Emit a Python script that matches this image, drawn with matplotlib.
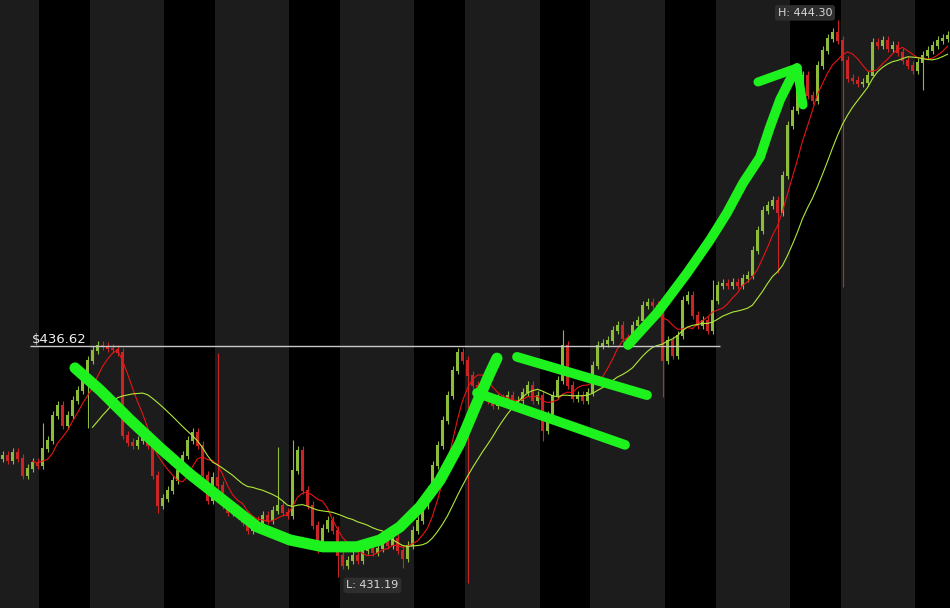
import numpy as np
import pandas as pd
from matplotlib import pyplot as plt

# closing prices, one per bar
closes = [
    434.06, 433.94, 434.13, 433.99, 433.59, 433.76, 433.90, 433.83, 434.23, 434.41,
    435.00, 435.24, 434.77, 435.00, 435.36, 435.59, 435.94, 436.30, 436.53, 436.65,
    436.63, 436.58, 436.56, 436.49, 434.53, 434.37, 434.30, 434.41, 434.60, 434.30,
    433.59, 432.89, 433.05, 433.24, 433.47, 433.71, 434.06, 434.41, 434.60, 434.30,
    433.59, 433.00, 433.55, 433.35, 432.89, 432.72, 432.81, 432.65, 432.48, 432.30,
    432.53, 432.34, 432.65, 432.53, 432.77, 432.89, 432.72, 432.65, 433.71, 434.18,
    433.24, 432.89, 432.41, 432.06, 432.34, 432.53, 432.30, 431.71, 431.47, 431.59,
    431.71, 431.59, 431.83, 431.94, 431.78, 431.87, 432.06, 431.94, 432.11, 431.83,
    431.64, 431.94, 432.30, 432.53, 432.89, 433.24, 433.83, 434.30, 434.89, 435.47,
    436.06, 436.49, 436.30, 435.94, 435.71, 435.64, 435.47, 435.36, 435.24, 435.40,
    435.31, 435.47, 435.24, 435.36, 435.54, 435.71, 435.36, 435.47, 434.65, 435.00,
    435.47, 435.83, 436.65, 435.71, 435.40, 435.47, 435.36, 435.54, 436.18, 436.65,
    436.70, 436.77, 437.00, 437.12, 436.81, 436.72, 437.12, 437.24, 437.59, 437.66,
    437.59, 437.52, 436.30, 436.77, 436.41, 436.89, 437.71, 437.83, 437.36, 437.12,
    437.24, 437.00, 437.71, 438.06, 438.11, 438.06, 438.13, 438.06, 438.23, 438.30,
    438.89, 439.36, 439.83, 439.95, 440.06, 439.78, 440.65, 441.83, 442.18, 442.65,
    443.01, 442.53, 442.42, 443.24, 443.59, 443.88, 444.02, 443.83, 443.36, 442.93,
    442.89, 442.82, 442.84, 443.01, 443.78, 443.71, 443.83, 443.64, 443.71, 443.55,
    443.36, 443.24, 443.12, 443.31, 443.48, 443.59, 443.71, 443.83, 443.88, 443.95,
]
first_open = 434.00

# long wicks (bar index -> price)
spike_highs = {8: 434.82, 29: 434.65, 43: 436.46, 55: 434.25, 58: 434.41,
               112: 437.00, 142: 438.17, 167: 444.30}
spike_lows = {17: 434.70, 31: 432.70, 63: 431.75, 67: 431.19, 80: 431.40,
              93: 431.05, 108: 434.40, 132: 435.43, 155: 438.35, 168: 438.02,
              174: 443.30, 184: 442.65}

ref_level = 436.62
hi_value = 444.30
lo_value = 431.19

# trading sessions (bar index spans, shaded grey)
session_starts = [-0.5, 17.5, 42.5, 67.5, 92.5, 117.5, 142.7, 167.7]
session_ends = [7.3, 32.3, 57.3, 82.3, 107.5, 132.5, 157.5, 182.5]

# hand drawn markup, in (bar, price)
u_bars = [14.5, 19.5, 25.5, 31.5, 37.5, 44.1, 50.9, 57.5, 64.1, 70.9, 75.5,
          79.5, 83.5, 87.5, 91.5, 94.9, 97.5, 98.9]
u_prices = [436.11, 435.59, 434.89, 434.23, 433.61, 433.00, 432.37, 432.06,
            431.90, 431.90, 432.06, 432.37, 432.84, 433.47, 434.34, 435.29,
            435.99, 436.34]
chan_lo_bars = [94.9, 124.5]
chan_lo_prices = [435.52, 434.30]
chan_hi_bars = [102.9, 128.9]
chan_hi_prices = [436.37, 435.47]
arrow_bars = [125.1, 130.9, 136.9, 141.5, 144.9, 148.1, 151.5, 153.5, 155.5,
              157.5, 158.9]
arrow_prices = [436.65, 437.40, 438.34, 439.12, 439.76, 440.46, 441.07,
                441.78, 442.42, 442.89, 443.17]
head_bars = [151.1, 158.9, 160.1]
head_prices = [442.84, 443.17, 442.30]

df = pd.DataFrame({'close': closes})
df['open'] = df['close'].shift(1).fillna(first_open)
df['top'] = df[['open', 'close']].max(axis=1)
df['bot'] = df[['open', 'close']].min(axis=1)
df['high'] = df['top'] + 0.1
df['low'] = df['bot'] - 0.1
for k, v in spike_highs.items():
    df.loc[k, 'high'] = v
for k, v in spike_lows.items():
    df.loc[k, 'low'] = v
df['ma_fast'] = df['close'].rolling(7).mean()
df['ma_slow'] = df['close'].rolling(19).mean()
x = np.arange(len(df))

fig = plt.figure(figsize=(9.5, 6.08), dpi=100, facecolor='black')
ax = fig.add_axes([0, 0, 1, 1])
ax.set_facecolor('black')
ax.set_xlim(-0.5, len(df) - 0.5)
ax.set_ylim(430.46, 444.77)
ax.axis('off')

for s, e in zip(session_starts, session_ends):
    ax.axvspan(s, e, color='#1c1c1c', lw=0, zorder=0)

green = '#8cbc3a'
red = '#cc2424'
up = df['close'] >= df['open']
colors = np.where(up, green, red)
ax.vlines(x, df['low'], df['high'], colors=colors, lw=0.8, zorder=2)
ax.bar(x, df['top'] - df['bot'], bottom=df['bot'], width=0.7, color=colors,
       linewidth=0, zorder=2)
# keep doji bodies visible
ax.bar(x, np.full(len(df), 0.05), bottom=df['bot'] - 0.025, width=0.7,
       color=colors, linewidth=0, zorder=2)

ax.plot(x, df['ma_fast'], color='#e81414', lw=0.8, zorder=3)
ax.plot(x, df['ma_slow'], color='#b0e838', lw=0.8, zorder=3)

# reference level
ax.hlines(ref_level, 5.5, 143.5, color='#c8c8c8', lw=1, zorder=4)
ax.annotate('$%.2f' % ref_level, (5.9, ref_level), xytext=(0, 0.5),
            textcoords='offset points', color='#eeeeee', fontsize=9.5,
            va='bottom', ha='left', zorder=5)

box = dict(boxstyle='round,pad=0.25', fc='#2e2e2e', ec='none')
ax.text(160.5, hi_value + 0.05, 'H: %.2f' % hi_value, color='#d8d8d8',
        fontsize=8, ha='center', va='bottom', bbox=box, zorder=6)
ax.text(74, lo_value - 0.08, 'L: %.2f' % lo_value, color='#d8d8d8',
        fontsize=8, ha='center', va='top', bbox=box, zorder=6)

mark = '#1ef21e'
kw = dict(color=mark, solid_capstyle='round', solid_joinstyle='round', zorder=7)
ax.plot(u_bars, u_prices, lw=8, **kw)
ax.plot(chan_lo_bars, chan_lo_prices, lw=7, **kw)
ax.plot(chan_hi_bars, chan_hi_prices, lw=7, **kw)
ax.plot(arrow_bars, arrow_prices, lw=7, **kw)
ax.plot(head_bars, head_prices, lw=6.5, **kw)

fig.savefig('out.png', dpi=100, facecolor='black')
